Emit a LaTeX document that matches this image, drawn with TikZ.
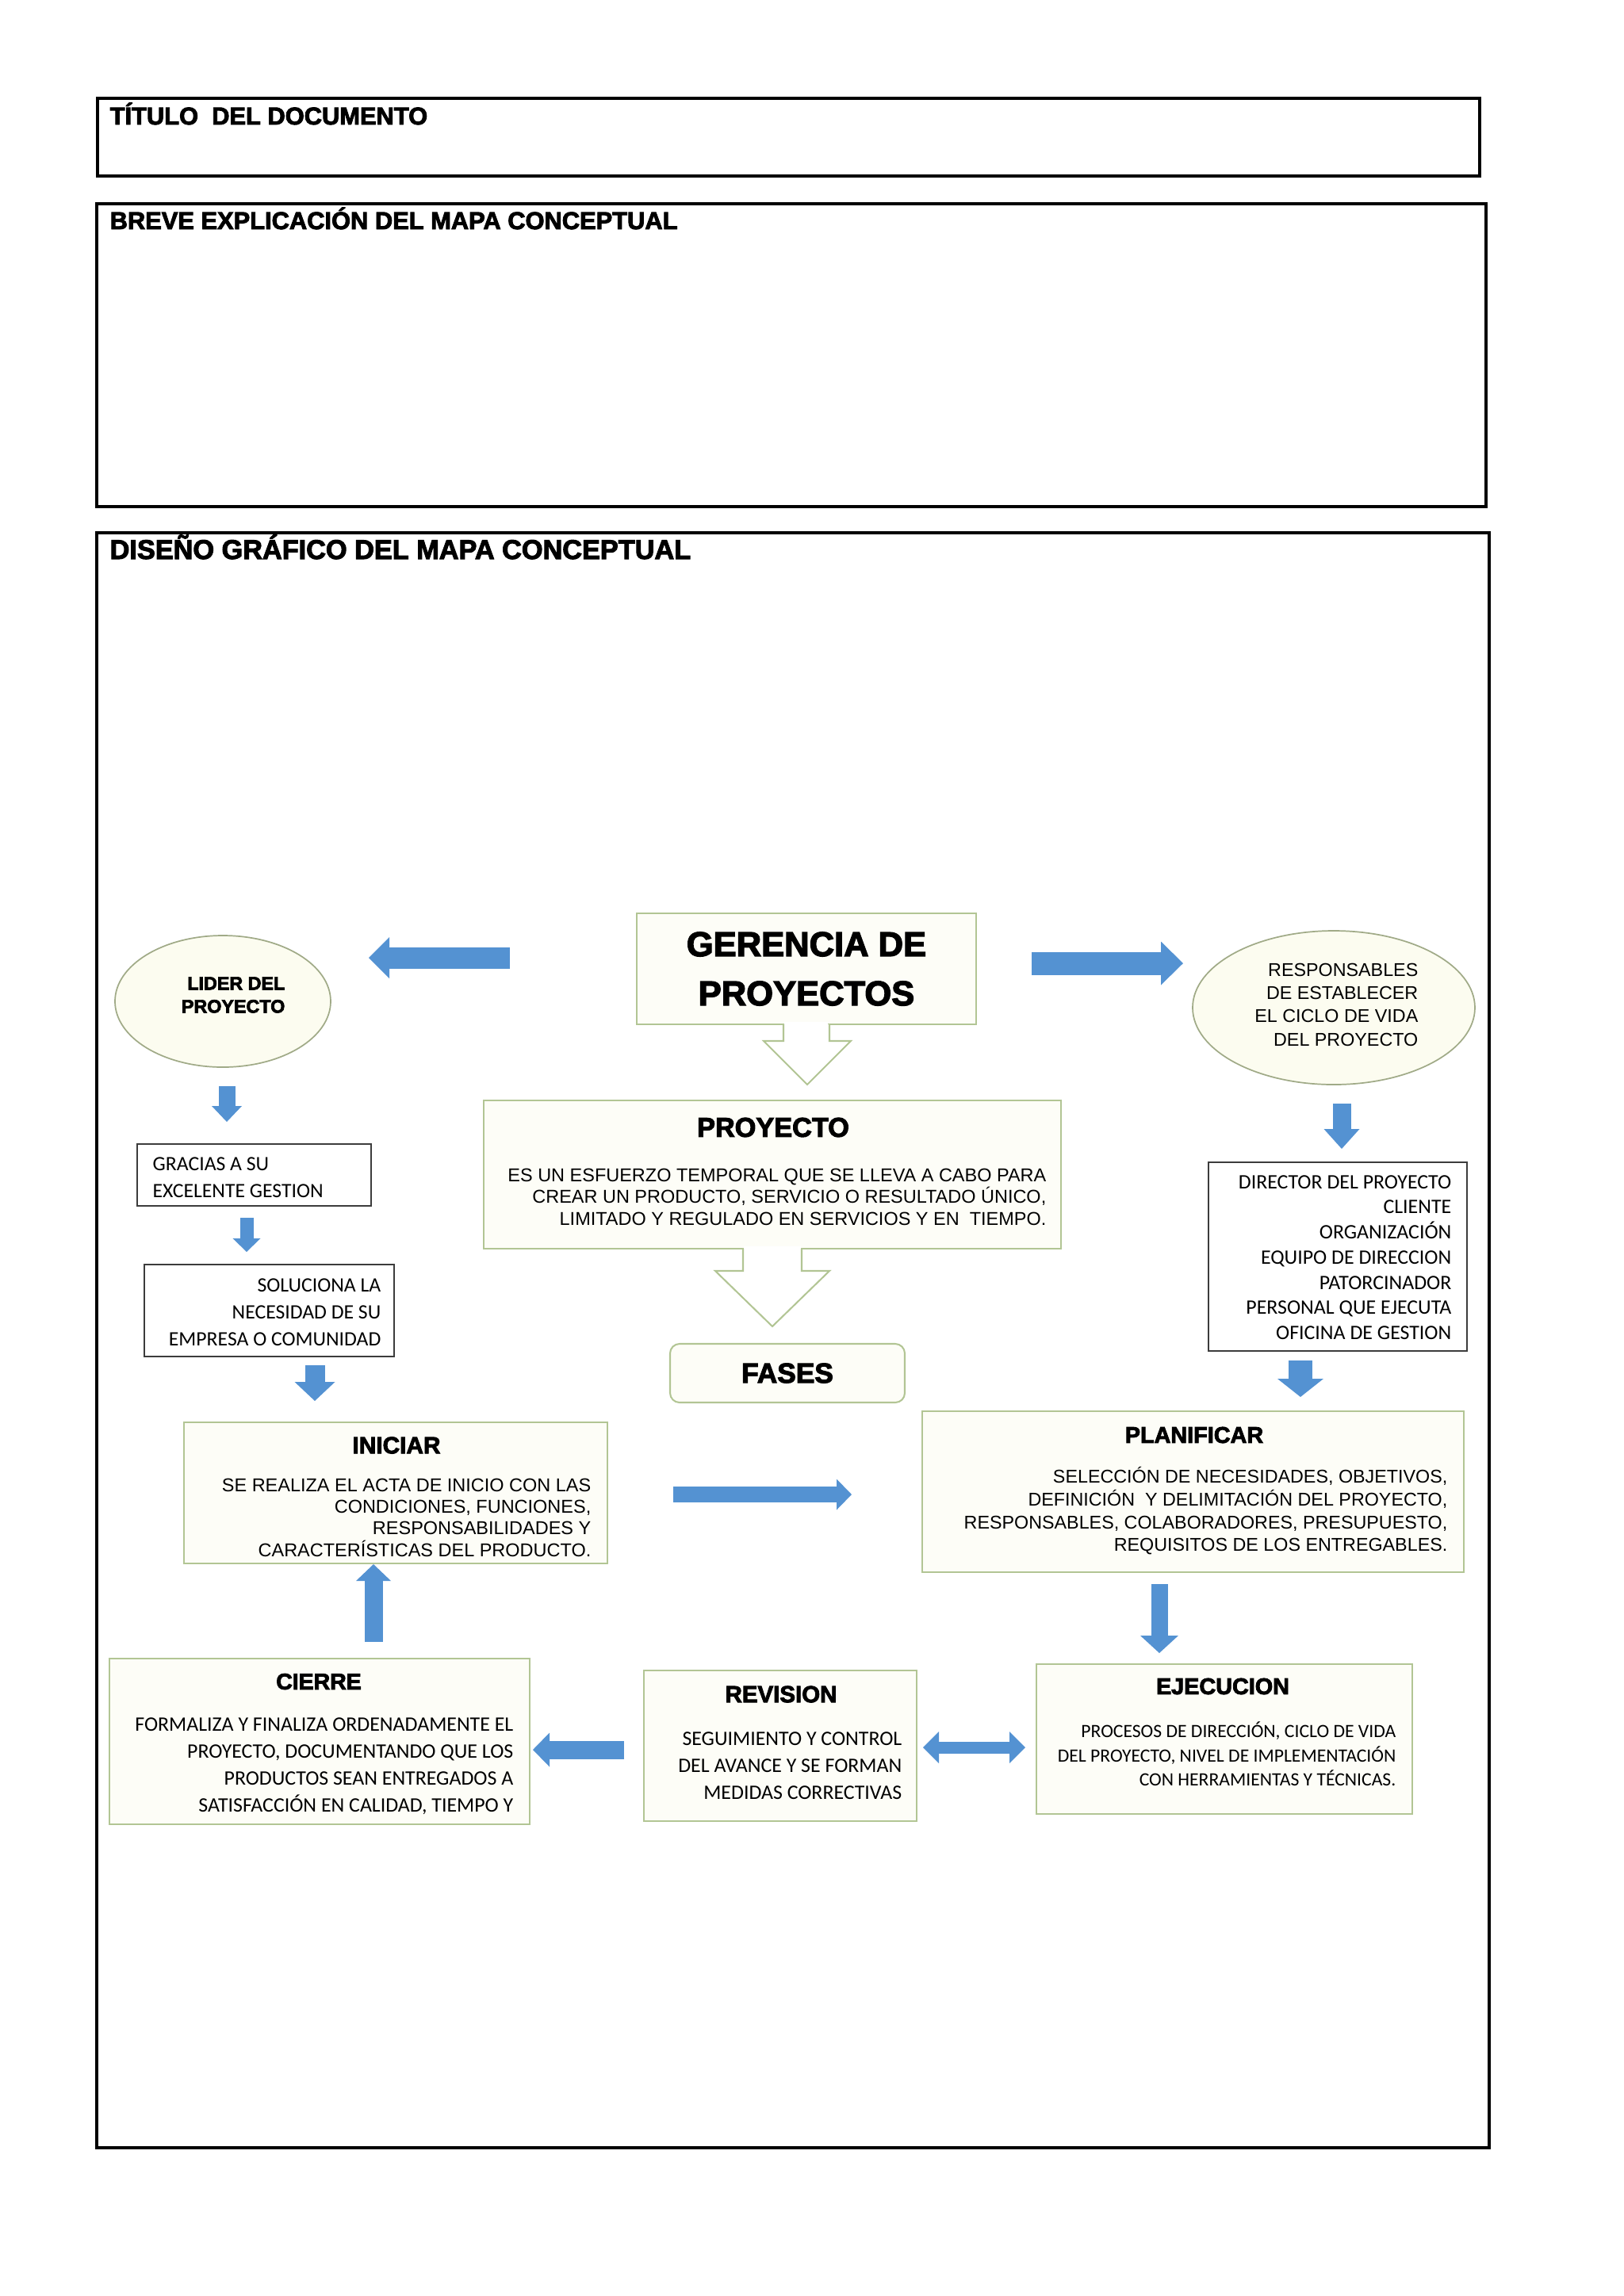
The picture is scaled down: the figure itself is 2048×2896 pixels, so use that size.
\documentclass[tikz,border=0pt]{standalone}
\usepackage{fontspec}
\setmainfont{Liberation Sans}
\newfontfamily\calib{Carlito}
\newfontfamily\heavy{Liberation Sans}[FakeBold=3]
\usepackage{tikz}
\usetikzlibrary{shapes.geometric,arrows.meta}

\newlength\pxu
\setlength\pxu{0.29175pt}

\definecolor{boxline}{RGB}{178,197,148}
\definecolor{boxfill}{RGB}{253,253,247}
\definecolor{ovalline}{RGB}{160,170,135}
\definecolor{ovalfill}{RGB}{252,252,240}
\definecolor{arrowblue}{RGB}{84,146,210}
\definecolor{darkline}{RGB}{60,60,60}

\tikzset{
  pageframe/.style={draw=black, line width=0.9pt},
  hdr/.style={anchor=base west, inner sep=0pt, font=\heavy\bfseries\fontsize{9}{9}\selectfont},
  greenbox/.style 2 args={draw=boxline, fill=boxfill, line width=0.6pt, minimum width=#1\pxu, minimum height=#2\pxu, inner sep=0pt, outer sep=0pt},
  darkbox/.style 2 args={draw=darkline, fill=white, line width=0.6pt, minimum width=#1\pxu, minimum height=#2\pxu, inner sep=0pt, outer sep=0pt},
  oval/.style 2 args={ellipse, draw=ovalline, fill=ovalfill, line width=0.5pt, minimum width=#1\pxu, minimum height=#2\pxu, inner sep=0pt},
  ttl/.style={inner sep=0pt, font=\heavy\bfseries\fontsize{#1}{#1}\selectfont},
  txt/.style 2 args={anchor=east, align=right, inner sep=0pt, font=\fontsize{#1}{#2}\selectfont},
  ctxt/.style 2 args={anchor=east, align=right, inner sep=0pt, font=\calib\fontsize{#1}{#2}\selectfont},
  blockarrow/.style n args={3}{draw=arrowblue, line width=#1\pxu,
    /utils/exec={\pgfmathsetmacro\tipw{#2*0.29175}\pgfmathsetmacro\tipl{#3*0.29175}},
    -{Triangle[width=\tipw pt, length=\tipl pt, line width=0pt]}},
  twoway/.style n args={3}{draw=arrowblue, line width=#1\pxu,
    /utils/exec={\pgfmathsetmacro\tipw{#2*0.29175}\pgfmathsetmacro\tipl{#3*0.29175}},
    {Triangle[width=\tipw pt, length=\tipl pt, line width=0pt]}-{Triangle[width=\tipw pt, length=\tipl pt, line width=0pt]}},
  hollow/.style={draw=boxline, line width=0.6pt, fill=white}
}

\begin{document}
\begin{tikzpicture}[x=0.29175pt, y=-0.29175pt]
    \useasboundingbox (0,0) rectangle (2048,2896);

    % Page frames
    \draw[pageframe] (123,124) rectangle (1866,222);
    \node[hdr] (titulo) at (138,157) {TÍTULO\ \ DEL DOCUMENTO};
    \draw[pageframe] (122,257) rectangle (1874,639);
    \node[hdr] (breve) at (138,289) {BREVE EXPLICACIÓN DEL MAPA CONCEPTUAL};
    \draw[pageframe] (122,672) rectangle (1878,2709);
    \node[hdr, font=\heavy\bfseries\fontsize{10}{10}\selectfont] (diseno) at (138,705) {DISEÑO GRÁFICO DEL MAPA CONCEPTUAL};

    % Center column
    \node[greenbox={428}{140}, align=center, font=\heavy\bfseries\fontsize{12.7}{18.1}\selectfont] (gerencia) at (1017,1222) {GERENCIA DE\\PROYECTOS};
    \node[greenbox={728}{187}] (proyecto) at (974,1481.5) {};
    \node[ttl=10] (proyectoT) at (975,1422) {PROYECTO};
    \node[txt={6.85}{8.02}] (proyectoB) at (1320,1509.5) {ES UN ESFUERZO TEMPORAL QUE SE LLEVA A CABO PARA\\CREAR UN PRODUCTO, SERVICIO O RESULTADO ÚNICO,\\LIMITADO Y REGULADO EN SERVICIOS Y EN\ \ TIEMPO.};
    \node[greenbox={296}{74}, rounded corners=3.5pt, font=\heavy\bfseries\fontsize{10.3}{10.3}\selectfont] (fases) at (993,1732) {FASES};

    % Hollow arrows
    \fill[white] ([xshift=-28\pxu,yshift=1pt]gerencia.south) rectangle ([xshift=27\pxu,yshift=-1pt]gerencia.south);
    \draw[hollow] ([xshift=-29\pxu]gerencia.south) -- ++(0,21) -- ++(-25,0) -- ++(55,55) -- ++(55,-55) -- ++(-27,0) -- ++(0,-21);
    \fill[white] ([xshift=-36\pxu,yshift=1pt]proyecto.south) rectangle ([xshift=36\pxu,yshift=-1pt]proyecto.south);
    \draw[hollow] ([xshift=-37\pxu]proyecto.south) -- ++(0,28) -- ++(-35,0) -- ++(72,70) -- ++(72,-70) -- ++(-35,0) -- ++(0,-28);

    % Left column
    \node[oval={272}{166}] (lider) at (281,1263) {};
    \node[txt={6.8}{8.46}, font=\heavy\bfseries\fontsize{6.8}{8.46}\selectfont] (liderT) at (360,1255) {LIDER DEL\\PROYECTO};
    \node[darkbox={295}{78}] (gracias) at (320.5,1482) {};
    \node[ctxt={7.5}{9.92}, anchor=west, align=left] (graciasT) at (192,1485) {GRACIAS A SU\\EXCELENTE GESTION};
    \node[darkbox={315}{116}] (soluciona) at (339.5,1653) {};
    \node[ctxt={7.5}{9.92}] (solucionaT) at (481,1655) {SOLUCIONA LA\\NECESIDAD DE SU\\EMPRESA O COMUNIDAD};
    \node[greenbox={534}{178}] (iniciar) at (499,1883) {};
    \node[ttl=8.7] (iniciarT) at (500,1823) {INICIAR};
    \node[txt={6.85}{7.97}] (iniciarB) at (746,1914) {SE REALIZA EL ACTA DE INICIO CON LAS\\CONDICIONES, FUNCIONES,\\RESPONSABILIDADES Y\\CARACTERÍSTICAS DEL PRODUCTO.};

    % Right column
    \node[oval={356}{194}] (respons) at (1682,1271) {};
    \node[txt={6.8}{8.55}] (responsT) at (1789,1267) {RESPONSABLES\\DE ESTABLECER\\EL CICLO DE VIDA\\DEL PROYECTO};
    \node[darkbox={326}{238}] (director) at (1687,1585) {};
    \node[ctxt={7.55}{9.24}] (directorT) at (1831,1586) {DIRECTOR DEL PROYECTO\\CLIENTE\\ORGANIZACIÓN\\EQUIPO DE DIRECCION\\PATORCINADOR\\PERSONAL QUE EJECUTA\\OFICINA DE GESTION};
    \node[greenbox={683}{203}] (planificar) at (1504.5,1881.5) {};
    \node[ttl=8.4] (planificarT) at (1506,1810) {PLANIFICAR};
    \node[txt={6.8}{8.37}] (planificarB) at (1826,1906) {SELECCIÓN DE NECESIDADES, OBJETIVOS,\\DEFINICIÓN\ \ Y DELIMITACIÓN DEL PROYECTO,\\RESPONSABLES, COLABORADORES, PRESUPUESTO,\\REQUISITOS DE LOS ENTREGABLES.};

    % Bottom row
    \node[greenbox={474}{189}] (ejecucion) at (1544,2193.5) {};
    \node[ttl=8.4] (ejecucionT) at (1542,2127) {EJECUCION};
    \node[ctxt={6.9}{8.9}] (ejecucionB) at (1761,2212.5) {PROCESOS DE DIRECCIÓN, CICLO DE VIDA\\DEL PROYECTO, NIVEL DE IMPLEMENTACIÓN\\CON HERRAMIENTAS Y TÉCNICAS.};
    \node[greenbox={344}{190}] (revision) at (984,2202) {};
    \node[ttl=8.6] (revisionT) at (985,2137) {REVISION};
    \node[ctxt={7.55}{9.92}] (revisionB) at (1138,2227) {SEGUIMIENTO Y CONTROL\\DEL AVANCE Y SE FORMAN\\MEDIDAS CORRECTIVAS};
    \node[greenbox={530}{209}] (cierre) at (403,2196.5) {};
    \node[ttl=8.3] (cierreT) at (402,2121) {CIERRE};
    \node[ctxt={7.55}{9.92}] (cierreB) at (648,2228) {FORMALIZA Y FINALIZA ORDENADAMENTE EL\\PROYECTO, DOCUMENTANDO QUE LOS\\PRODUCTOS SEAN ENTREGADOS A\\SATISFACCIÓN EN CALIDAD, TIEMPO Y};

    % Blue arrows
    \coordinate (a1s) at (643,1208);  \coordinate (a1e) at (465,1208);
    \coordinate (a2s) at (1301,1215); \coordinate (a2e) at (1492,1215);
    \coordinate (a3s) at (286,1370);  \coordinate (a3e) at (286,1415);
    \coordinate (a4s) at (311,1536);  \coordinate (a4e) at (311,1579);
    \coordinate (a5s) at (397,1722);  \coordinate (a5e) at (397,1767);
    \coordinate (a6s) at (471,2071);  \coordinate (a6e) at (471,1973);
    \coordinate (a7s) at (849,1885);  \coordinate (a7e) at (1074,1885);
    \coordinate (a8s) at (1692,1392); \coordinate (a8e) at (1692,1449);
    \coordinate (a9s) at (1640,1716); \coordinate (a9e) at (1640,1762);
    \coordinate (a10s) at (1462,1998); \coordinate (a10e) at (1462,2085);
    \coordinate (a11s) at (1164,2204); \coordinate (a11e) at (1293,2204);
    \coordinate (a12s) at (787,2207);  \coordinate (a12e) at (672,2207);

    \draw[blockarrow={27}{52}{26}] (a1s) -- (a1e);
    \draw[blockarrow={29}{55}{28}] (a2s) -- (a2e);
    \draw[blockarrow={21}{38}{20}] (a3s) -- (a3e);
    \draw[blockarrow={17}{35}{17}] (a4s) -- (a4e);
    \draw[blockarrow={25}{51}{24}] (a5s) -- (a5e);
    \draw[blockarrow={23}{44}{21}] (a6s) -- (a6e);
    \draw[blockarrow={20}{39}{19}] (a7s) -- (a7e);
    \draw[blockarrow={23}{45}{25}] (a8s) -- (a8e);
    \draw[blockarrow={30}{58}{23}] (a9s) -- (a9e);
    \draw[blockarrow={21}{48}{22}] (a10s) -- (a10e);
    \draw[twoway={15}{40}{20}] (a11s) -- (a11e);
    \draw[blockarrow={23}{43}{21}] (a12s) -- (a12e);

\end{tikzpicture}
\end{document}
